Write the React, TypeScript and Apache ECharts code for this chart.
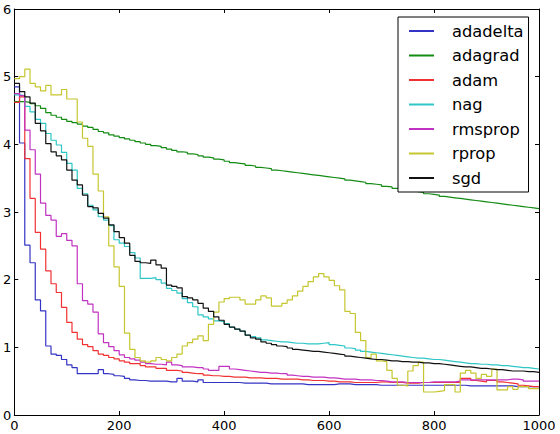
import React, { useEffect, useRef } from "react";
import * as echarts from "echarts";

// iterations sampled every 10 steps
const iterations: number[] = Array.from({ length: 101 }, (_, i) => i * 10);

const seriesNames = ["adadelta", "adagrad", "adam", "nag", "rmsprop", "rprop", "sgd"];
const seriesColors = ["#3434c4", "#148c14", "#f23232", "#2ec6c6", "#c232c2", "#c6c630", "#111111"];

const adadelta = [
  4.85, 4.02, 2.51, 2.25, 1.7, 1.54, 1.02, 0.9, 0.88, 0.82,
  0.74, 0.7, 0.61, 0.61, 0.61, 0.61, 0.67, 0.61, 0.6, 0.58,
  0.57, 0.54, 0.52, 0.51, 0.51, 0.5, 0.5, 0.5, 0.5, 0.49,
  0.49, 0.54, 0.5, 0.5, 0.49, 0.52, 0.48, 0.48, 0.48, 0.48,
  0.48, 0.48, 0.48, 0.47, 0.47, 0.47, 0.47, 0.47, 0.46, 0.46,
  0.46, 0.46, 0.46, 0.46, 0.46, 0.45, 0.45, 0.45, 0.45, 0.45,
  0.45, 0.46, 0.46, 0.46, 0.45, 0.45, 0.45, 0.45, 0.45, 0.44,
  0.44, 0.44, 0.44, 0.44, 0.44, 0.44, 0.44, 0.44, 0.44, 0.44,
  0.44, 0.44, 0.44, 0.44, 0.44, 0.44, 0.43, 0.43, 0.43, 0.43,
  0.43, 0.43, 0.43, 0.43, 0.43, 0.42, 0.42, 0.42, 0.42, 0.42, 0.42,
];

const adagrad = [
  4.63, 4.63, 4.62, 4.6, 4.57, 4.53, 4.47, 4.43, 4.4, 4.37,
  4.34, 4.32, 4.3, 4.27, 4.25, 4.22, 4.19, 4.17, 4.14, 4.12,
  4.1, 4.08, 4.06, 4.04, 4.02, 4.0, 3.98, 3.97, 3.95, 3.93,
  3.91, 3.89, 3.88, 3.86, 3.85, 3.83, 3.81, 3.8, 3.78, 3.77,
  3.75, 3.73, 3.72, 3.71, 3.69, 3.68, 3.66, 3.65, 3.64, 3.62,
  3.61, 3.6, 3.59, 3.58, 3.57, 3.56, 3.55, 3.54, 3.53, 3.52,
  3.51, 3.5, 3.49, 3.47, 3.46, 3.45, 3.44, 3.42, 3.41, 3.4,
  3.38, 3.37, 3.35, 3.34, 3.33, 3.31, 3.3, 3.29, 3.27, 3.26,
  3.25, 3.23, 3.22, 3.21, 3.2, 3.19, 3.18, 3.17, 3.16, 3.15,
  3.14, 3.13, 3.12, 3.11, 3.1, 3.09, 3.08, 3.07, 3.06, 3.05, 3.05,
];

const adam = [
  4.62, 4.7, 3.79, 3.2, 2.7, 2.45, 2.13, 1.94, 1.81, 1.59,
  1.37, 1.22, 1.12, 1.04, 1.01, 0.95, 0.9, 0.88, 0.85, 0.83,
  0.8, 0.78, 0.76, 0.76, 0.73, 0.71, 0.71, 0.69, 0.69, 0.66,
  0.66, 0.65, 0.63, 0.62, 0.61, 0.61, 0.59, 0.58, 0.58, 0.57,
  0.57, 0.56, 0.56, 0.56, 0.55, 0.55, 0.55, 0.54, 0.54, 0.54,
  0.53, 0.53, 0.53, 0.53, 0.52, 0.52, 0.51, 0.51, 0.51, 0.5,
  0.5, 0.49, 0.49, 0.49, 0.48, 0.48, 0.48, 0.48, 0.48, 0.49,
  0.49, 0.48, 0.48, 0.48, 0.47, 0.47, 0.47, 0.48, 0.48, 0.48,
  0.48, 0.48, 0.48, 0.48, 0.48, 0.54, 0.54, 0.51, 0.5, 0.49,
  0.51, 0.51, 0.49, 0.48, 0.47, 0.46, 0.44, 0.43, 0.42, 0.42, 0.41,
];

const nag = [
  4.73, 4.72, 4.56, 4.48, 4.37, 4.31, 4.16, 4.06, 3.99, 3.88,
  3.72, 3.62, 3.35, 3.27, 3.1, 3.03, 2.93, 2.88, 2.8, 2.59,
  2.54, 2.49, 2.4, 2.32, 2.02, 2.02, 2.03, 2.0, 1.95, 1.87,
  1.84, 1.8, 1.72, 1.66, 1.6, 1.48, 1.45, 1.42, 1.39, 1.38,
  1.35, 1.3, 1.27, 1.24, 1.18, 1.16, 1.14, 1.11, 1.1, 1.09,
  1.08, 1.08, 1.07, 1.06, 1.06, 1.05, 1.05, 1.05, 1.06, 1.07,
  1.04, 1.03, 1.02, 0.99, 0.98, 0.96, 0.94, 0.93, 0.92, 0.91,
  0.9, 0.89, 0.88, 0.87, 0.86, 0.85, 0.84, 0.84, 0.83, 0.82,
  0.82, 0.81, 0.8, 0.79, 0.78, 0.77, 0.76, 0.76, 0.75, 0.75,
  0.74, 0.74, 0.73, 0.73, 0.72, 0.71, 0.7, 0.7, 0.69, 0.68, 0.68,
];

const rmsprop = [
  4.75, 4.72, 4.21, 3.92, 3.56, 3.13, 2.95, 2.88, 2.64, 2.68,
  2.58, 2.5, 1.94, 1.69, 1.64, 1.52, 1.2, 1.07, 1.01, 0.95,
  0.89, 0.85, 0.83, 0.81, 0.78, 0.76, 0.75, 0.75, 0.74, 0.78,
  0.74, 0.73, 0.71, 0.71, 0.7, 0.7, 0.68, 0.66, 0.66, 0.72,
  0.72, 0.68, 0.67, 0.66, 0.65, 0.64, 0.63, 0.63, 0.62, 0.62,
  0.61, 0.61, 0.59, 0.58, 0.57, 0.57, 0.56, 0.56, 0.56, 0.55,
  0.55, 0.54, 0.53, 0.53, 0.53, 0.52, 0.52, 0.52, 0.51, 0.51,
  0.5, 0.49, 0.49, 0.49, 0.48, 0.48, 0.48, 0.48, 0.48, 0.49,
  0.49, 0.49, 0.49, 0.49, 0.5, 0.52, 0.52, 0.52, 0.52, 0.52,
  0.52, 0.52, 0.52, 0.52, 0.53, 0.53, 0.52, 0.5, 0.5, 0.5, 0.5,
];

const rprop = [
  4.97, 5.0, 5.11, 4.9, 4.85, 4.79, 4.87, 4.73, 4.73, 4.81,
  4.67, 4.67, 4.33, 4.09, 3.97, 3.56, 3.31, 2.93, 2.5, 2.19,
  1.9, 1.21, 0.97, 0.85, 0.8, 0.78, 0.8, 0.85, 0.82, 0.8,
  0.85, 0.9, 1.02, 1.07, 1.12, 1.17, 1.1, 1.34, 1.52, 1.67,
  1.72, 1.74, 1.74, 1.7, 1.64, 1.64, 1.7, 1.76, 1.73, 1.61,
  1.61, 1.65, 1.7, 1.76, 1.83, 1.9, 1.97, 2.04, 2.09, 2.04,
  1.99, 1.91, 1.85, 1.53, 1.5, 1.22, 1.1, 0.85, 0.9, 0.8,
  0.79, 0.66, 0.54, 0.44, 0.43, 0.65, 0.73, 0.78, 0.34, 0.34,
  0.35, 0.36, 0.45, 0.45, 0.34, 0.62, 0.66, 0.62, 0.54, 0.6,
  0.57, 0.68, 0.37, 0.37, 0.42, 0.38, 0.42, 0.42, 0.39, 0.39, 0.39,
];

const sgd = [
  4.9, 4.78, 4.7, 4.61, 4.31, 4.2, 4.01, 3.89, 3.83, 3.77,
  3.62, 3.47, 3.4, 3.25, 3.08, 3.06, 2.98, 2.91, 2.81, 2.71,
  2.62, 2.54, 2.36, 2.27, 2.25, 2.24, 2.29, 2.22, 2.17, 1.92,
  1.9, 1.88, 1.75, 1.73, 1.7, 1.65, 1.58, 1.53, 1.45, 1.4,
  1.34, 1.3, 1.27, 1.24, 1.18, 1.14, 1.12, 1.08, 1.06, 1.04,
  1.02, 1.01, 0.99, 0.97, 0.96, 0.95, 0.94, 0.94, 0.93, 0.92,
  0.91, 0.9, 0.89, 0.87, 0.86, 0.85, 0.84, 0.83, 0.82, 0.82,
  0.81, 0.8, 0.8, 0.79, 0.79, 0.78, 0.78, 0.77, 0.77, 0.76,
  0.76, 0.75, 0.74, 0.73, 0.72, 0.71, 0.71, 0.7, 0.69, 0.69,
  0.68, 0.67, 0.67, 0.66, 0.65, 0.65, 0.65, 0.64, 0.64, 0.63, 0.64,
];

const allValues = [adadelta, adagrad, adam, nag, rmsprop, rprop, sgd];

const xTicks = { min: 0, max: 1000, interval: 200 };
const yTicks = { min: 0, max: 6, interval: 1 };

const FONT = "DejaVu Sans";

export default function App() {
  const ref = useRef<HTMLDivElement>(null);
  useEffect(() => {
    if (!ref.current) return;
    const chart = echarts.init(ref.current, undefined, { renderer: "svg" });
    const axisCommon = {
      axisLine: { show: true, onZero: false, lineStyle: { color: "#000", width: 1 } },
      axisTick: { show: true, inside: true, length: 4, lineStyle: { color: "#000", width: 1 } },
      splitLine: { show: false },
    };
    const labelStyle = {
      color: "#000",
      fontFamily: FONT,
      fontSize: 13,
      formatter: (v: number) => String(v),
    };
    chart.setOption({
      animation: false,
      backgroundColor: "#ffffff",
      grid: { left: 14, right: 21, top: 9, bottom: 19, containLabel: false },
      xAxis: [
        {
          type: "value",
          ...xTicks,
          position: "bottom",
          ...axisCommon,
          axisLabel: { ...labelStyle, margin: 4 },
        },
        {
          type: "value",
          ...xTicks,
          position: "top",
          ...axisCommon,
          axisLabel: { show: false },
        },
      ],
      yAxis: [
        {
          type: "value",
          ...yTicks,
          position: "left",
          ...axisCommon,
          axisLabel: { ...labelStyle, margin: 3 },
        },
        {
          type: "value",
          ...yTicks,
          position: "right",
          ...axisCommon,
          axisLabel: { show: false },
        },
      ],
      legend: {
        show: true,
        orient: "vertical",
        left: 398,
        top: 17,
        padding: [4, 5, 4, 11],
        backgroundColor: "#ffffff",
        borderColor: "#000000",
        borderWidth: 1,
        borderRadius: 0,
        itemWidth: 25,
        itemHeight: 2,
        itemGap: 4.5,
        icon: "rect",
        textStyle: {
          color: "#000",
          fontFamily: FONT,
          fontSize: 16.3,
          lineHeight: 20,
          padding: [0, 0, 0, 13],
        },
        data: seriesNames,
      },
      series: seriesNames.map((name, k) => ({
        name,
        type: "line",
        step: "end",
        xAxisIndex: 0,
        yAxisIndex: 0,
        showSymbol: false,
        symbol: "none",
        color: seriesColors[k],
        lineStyle: { color: seriesColors[k], width: 1.2 },
        data: iterations.map((x, i) => [x, allValues[k][i]]),
      })),
    });
    return () => chart.dispose();
  }, []);
  return (
    <div
      ref={ref}
      style={{ position: "fixed", left: 0, top: 0, width: 560, height: 434 }}
    />
  );
}
